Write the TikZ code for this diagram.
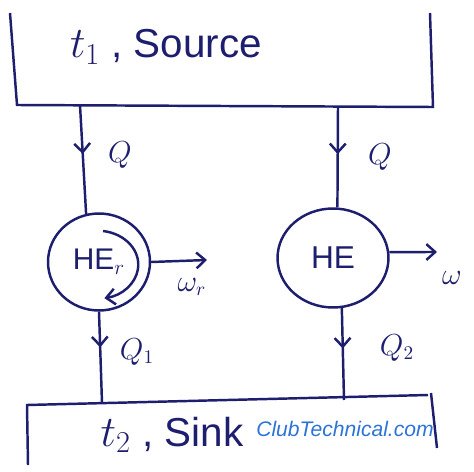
\documentclass[tikz,border=0pt]{standalone}
\usepackage{fontspec}
\setsansfont{Liberation Sans}
\usetikzlibrary{arrows.meta,shapes.geometric,decorations.markings}
\definecolor{ink}{RGB}{30,30,110}
\definecolor{webmark}{RGB}{45,115,215}

\begin{document}
\begin{tikzpicture}
[x=0.02cm,y=0.02cm,line width=1.4pt,color=ink,>={Straight Barb[length=5pt,width=9pt]}]
\tikzstyle{every node}=[text=ink,font=\fontsize{16}{19}\selectfont\sffamily]
\tikzstyle{engine}=[draw,ellipse,inner sep=0pt]
\tikzstyle{flow}=[postaction={decorate},decoration={markings,mark=at position #1 with {\arrow{>}}}]
\tikzstyle{big}=[font=\fontsize{23}{27}\selectfont\sffamily]
\useasboundingbox (0,0) rectangle (474,471);

% source reservoir
\draw (10,458) -- (17,366) -- (433,364) -- (430,458);
\node[big] (src) at (166,424) {$t_1$ , Source};

% sink reservoir
\draw (28,6) -- (27,66) -- (428,76);
\draw (431,78) -- (437,23);
\node[big] (snk) at (172,36) {$t_2$ , Sink};
\node[font=\fontsize{12}{14}\selectfont\sffamily\itshape,text=webmark] (wm) at (345,42) {ClubTechnical.com};

\coordinate (a1) at (80,366);
\coordinate (a2) at (338,364);
\coordinate (b1) at (102,68);
\coordinate (b2) at (344,71);
\coordinate (w1) at (207,211);
\coordinate (w2) at (437,219);

% engines
\node[engine,minimum width=2.04cm,minimum height=1.94cm,font=\fontsize{17}{20}\selectfont\sffamily] (her) at (99,209) {HE$_r$};
\node[engine,minimum width=2.22cm,minimum height=1.98cm,font=\fontsize{18}{20}\selectfont\sffamily] (he) at (333,213) {HE};

\draw[flow=0.45] (a1) -- (her.105);
\draw[flow=0.47] (a2) -- (he.85);
\draw[flow=0.39] (her.south) -- (b1);
\draw[flow=0.44] (he.-80) -- (b2);
\draw[->] (her.east) -- (w1);
\draw[->] (he.6) -- (w2);

% reversed
\draw[->] (her.center) ++(4,31) arc[start angle=82,end angle=-80,x radius=0.82cm,y radius=0.68cm];

% labels
\node (lqa) at (120,316) {$Q$};
\node (lqb) at (380,314) {$Q$};
\node (lqc) at (137,119) {$Q_1$};
\node (lqd) at (397,123) {$Q_2$};
\node (lwr) at (192,184) {$\omega_r$};
\node (lw) at (452,193) {$\omega$};
\end{tikzpicture}
\end{document}
